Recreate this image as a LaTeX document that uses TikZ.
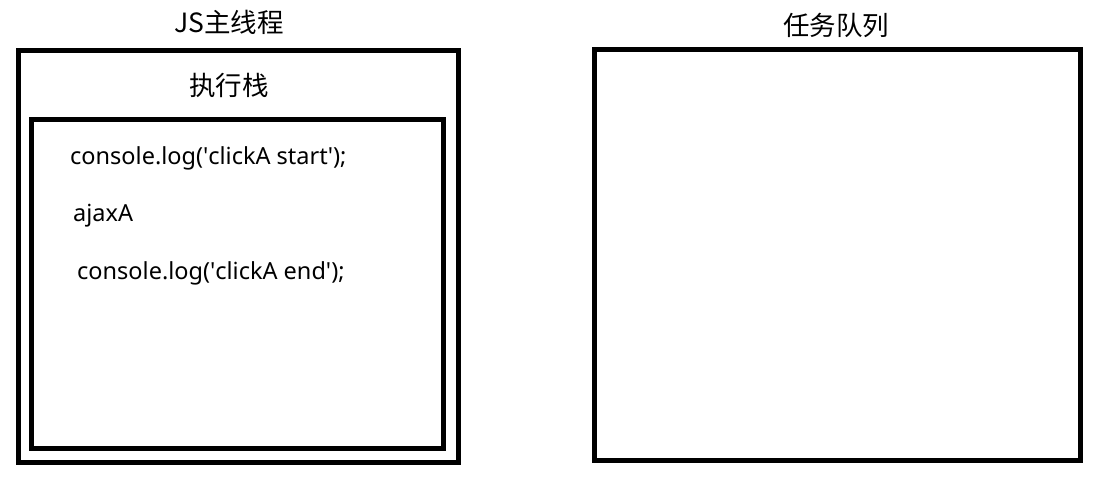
\documentclass[tikz,border=0pt]{standalone}
\usepackage{fontspec}
\setmainfont{Noto Sans CJK SC}
\newfontfamily\codefont{Noto Sans}
\newcommand{\sq}{\textquotesingle}
\begin{document}
\begin{tikzpicture}[x=1pt,y=-1pt,
  frame/.style={draw=black,line width=5pt,inner sep=0pt,outer sep=0pt,anchor=north west},
  lbl/.style={font=\fontsize{26.5}{30}\selectfont,inner sep=0pt},
  code/.style={font=\codefont\fontsize{23.5}{28}\selectfont,inner sep=0pt,anchor=west}]
\useasboundingbox (0,0) rectangle (1116,487);
\node[frame,minimum width=439.5pt,minimum height=411pt] (main) at (18.5,51) {};
\node[frame,minimum width=411.5pt,minimum height=328.5pt] (stack) at (31.5,119.5) {};
\node[frame,minimum width=486pt,minimum height=410pt] (queue) at (594,50) {};
\node[lbl] (t1) at (229,22) {JS主线程};
\node[lbl] (t2) at (229,85) {执行栈};
\node[lbl] (t3) at (836,25) {任务队列};
\node[code] (c1) at (70,158) {console.log(\sq clickA start\sq);};
\node[code] (c2) at (73,216) {ajaxA};
\node[code] (c3) at (77,273) {console.log(\sq clickA end\sq);};
\end{tikzpicture}
\end{document}
